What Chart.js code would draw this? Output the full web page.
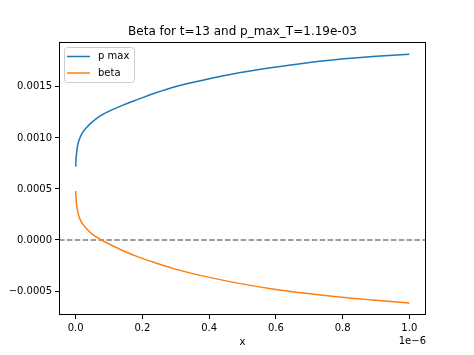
<!DOCTYPE html>
<html>
<head>
<meta charset="utf-8">
<script src="https://cdn.jsdelivr.net/npm/chart.js@4.4.1/dist/chart.umd.min.js"></script>
<style>
  html, body { margin: 0; padding: 0; background: #fff; }
  #wrap { width: 474px; height: 355px; position: relative; }
</style>
</head>
<body>
<div id="wrap"><canvas id="c" width="474" height="355"></canvas></div>
<script>
// x values in units of 1e-6 (matplotlib offset text "1e−6")
const xScaled = [0, 0.001, 0.003, 0.006, 0.012, 0.02, 0.032, 0.045, 0.062, 0.08, 0.102, 0.142, 0.187, 0.24, 0.29, 0.39, 0.49, 0.59, 0.69, 0.79, 0.89, 1.0];
const pMax   = [0.000719, 0.00079, 0.00086, 0.00093, 0.000995, 0.00105, 0.0011, 0.001143, 0.00119, 0.001228, 0.001265, 0.001322, 0.001378, 0.001442, 0.001495, 0.001572, 0.001638, 0.00169, 0.001735, 0.00177, 0.001797, 0.00182];
const beta   = [0.00048, 0.00041, 0.00034, 0.00028, 0.00021, 0.00016, 0.000112, 0.00007, 0.00003, -0.000005, -0.000042, -0.000105, -0.000165, -0.000225, -0.000278, -0.000359, -0.000425, -0.00048, -0.000523, -0.000559, -0.000588, -0.000617];
const xTicks = [0, 0.2, 0.4, 0.6, 0.8, 1.0];
const yTicks = [-0.0005, 0, 0.0005, 0.001, 0.0015];
const seriesNames = ['p max', 'beta'];
const titleText = 'Beta for t=13 and p_max_T=1.19e-03';
const xLabel = 'x';
const offsetText = '1e\u22126';
const hLineValue = 0;

const FONT = "'DejaVu Sans', sans-serif";
const C_BLUE = '#1f77b4', C_ORANGE = '#ff7f0e';

const pts = (ys) => xScaled.map((x, i) => ({ x: x, y: ys[i] }));

const decor = {
  id: 'decor',
  beforeDatasetsDraw(chart) {
    const { ctx, chartArea: a, scales } = chart;
    const y0 = scales.y.getPixelForValue(hLineValue);
    ctx.save();
    ctx.strokeStyle = '#808080';
    ctx.lineWidth = 1.5;
    ctx.setLineDash([5.5, 2.4]);
    ctx.beginPath();
    ctx.moveTo(a.left, y0);
    ctx.lineTo(a.right, y0);
    ctx.stroke();
    ctx.restore();
  },
  afterDraw(chart) {
    const { ctx, chartArea: a } = chart;
    ctx.save();
    // frame
    ctx.strokeStyle = '#000';
    ctx.lineWidth = 1;
    ctx.strokeRect(a.left + 0.5, a.top + 0.5, a.right - a.left - 1, a.bottom - a.top - 1);
    // title
    ctx.fillStyle = '#000';
    ctx.font = '12px ' + FONT;
    ctx.textAlign = 'center';
    ctx.textBaseline = 'middle';
    ctx.fillText(titleText, (a.left + a.right) / 2, 32);
    // offset text
    ctx.font = '10px ' + FONT;
    ctx.textAlign = 'right';
    ctx.fillText(offsetText, a.right, 341);
    // legend
    const lx = a.left + 5, ly = a.top + 5, lw = 70, lh = 35;
    ctx.beginPath();
    if (ctx.roundRect) ctx.roundRect(lx + 0.5, ly + 0.5, lw, lh, 3); else ctx.rect(lx + 0.5, ly + 0.5, lw, lh);
    ctx.fillStyle = 'rgba(255,255,255,0.8)';
    ctx.fill();
    ctx.strokeStyle = '#cccccc';
    ctx.stroke();
    const cols = [C_BLUE, C_ORANGE];
    seriesNames.forEach((name, i) => {
      const yy = ly + 9.5 + i * 16.5;
      ctx.strokeStyle = cols[i];
      ctx.lineWidth = 1.5;
      ctx.beginPath();
      ctx.moveTo(lx + 3, yy);
      ctx.lineTo(lx + 26, yy);
      ctx.stroke();
      ctx.fillStyle = '#000';
      ctx.textAlign = 'left';
      ctx.textBaseline = 'middle';
      ctx.font = '10px ' + FONT;
      ctx.fillText(name, lx + 34, yy);
    });
    ctx.restore();
  }
};

new Chart(document.getElementById('c'), {
  type: 'line',
  data: {
    datasets: [
      { label: seriesNames[0], data: pts(pMax), borderColor: C_BLUE, borderWidth: 1.5, pointRadius: 0, cubicInterpolationMode: 'monotone', fill: false },
      { label: seriesNames[1], data: pts(beta), borderColor: C_ORANGE, borderWidth: 1.5, pointRadius: 0, cubicInterpolationMode: 'monotone', fill: false }
    ]
  },
  options: {
    responsive: false,
    animation: false,
    devicePixelRatio: 1,
    layout: { padding: { top: 42, right: 48, left: 0, bottom: 0 } },
    plugins: { legend: { display: false }, title: { display: false }, tooltip: { enabled: false } },
    scales: {
      x: {
        type: 'linear',
        min: -0.05, max: 1.05,
        afterFit(s) { s.height = 40; },
        afterBuildTicks(s) { s.ticks = xTicks.map(v => ({ value: v })); },
        grid: { drawOnChartArea: false, drawTicks: true, tickLength: 4, color: '#000' },
        border: { display: false },
        ticks: { color: '#000', font: { family: FONT, size: 10 }, padding: 3, maxRotation: 0,
          callback: (v) => v.toFixed(1) },
        title: { display: true, text: xLabel, color: '#000', font: { family: FONT, size: 10 }, padding: { top: 0, bottom: 7 } }
      },
      y: {
        type: 'linear',
        min: -0.000735, max: 0.00194,
        afterFit(s) { s.width = 59; },
        afterBuildTicks(s) { s.ticks = yTicks.map(v => ({ value: v })); },
        grid: { drawOnChartArea: false, drawTicks: true, tickLength: 4, color: '#000' },
        border: { display: false },
        ticks: { color: '#000', font: { family: FONT, size: 10 }, padding: 3,
          callback: (v) => (v < 0 ? '\u2212' : '') + Math.abs(v).toFixed(4) }
      }
    }
  },
  plugins: [decor]
});
</script>
</body>
</html>
